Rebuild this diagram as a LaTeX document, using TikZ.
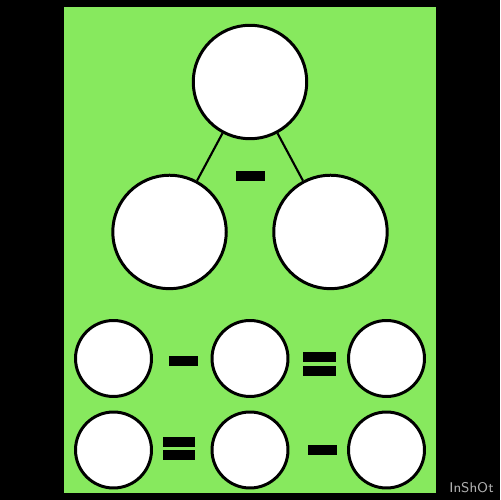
\documentclass[tikz,border=0pt]{standalone}
\usepackage{tikz}
\definecolor{boardgreen}{RGB}{135,233,94}
\definecolor{markgrey}{RGB}{175,175,175}

\tikzset{
  bigball/.style={circle,draw,fill=white,inner sep=0pt,minimum size=2.27cm},
  smallball/.style={circle,draw,fill=white,inner sep=0pt,minimum size=1.52cm},
  bar/.style={rectangle,fill=black,inner sep=0pt,minimum width=0.58cm,minimum height=0.2cm},
  widebar/.style={bar,minimum width=0.66cm}
}

\begin{document}
\begin{tikzpicture}[x=0.02cm,y=0.02cm,line width=1.7pt]
    \fill[black] (0,0) rectangle (500,500);
    \useasboundingbox (0,0) rectangle (500,500);
    \fill[boardgreen] (64,7) rectangle (436,493);

    % number bond
    \node [bigball] (whole) at (250,418) {} [level distance=3cm,sibling distance=3.22cm,
      edge from parent/.style={draw,line width=1.2pt}]
    child {node [bigball] (partA) {}}
    child {node [bigball] (partB) {}};
    \node [bar] (bondminus) at (250,324) {};

    % first row
    \node [smallball] (rowAa) at (113.5,141.5) {};
    \node [smallball] (rowAb) at (250,141.5) {};
    \node [smallball] (rowAc) at (386.5,141.5) {};
    \node [bar] (rowAminus) at (183,139) {};
    \node [widebar] (rowAeqtop) at (319.5,143) {};
    \node [widebar] (rowAeqbot) at (319.5,129) {};

    % second row
    \node [smallball] (rowBa) at (113.5,50) {};
    \node [smallball] (rowBb) at (250,50) {};
    \node [smallball] (rowBc) at (386.5,50) {};
    \node [widebar] (rowBeqtop) at (179,58) {};
    \node [widebar] (rowBeqbot) at (179,45) {};
    \node [bar] (rowBminus) at (322.5,50) {};

    \node [text=markgrey,font=\sffamily\fontsize{8}{8}\selectfont] (mark) at (471.5,12.5) {InShOt};
\end{tikzpicture}
\end{document}
